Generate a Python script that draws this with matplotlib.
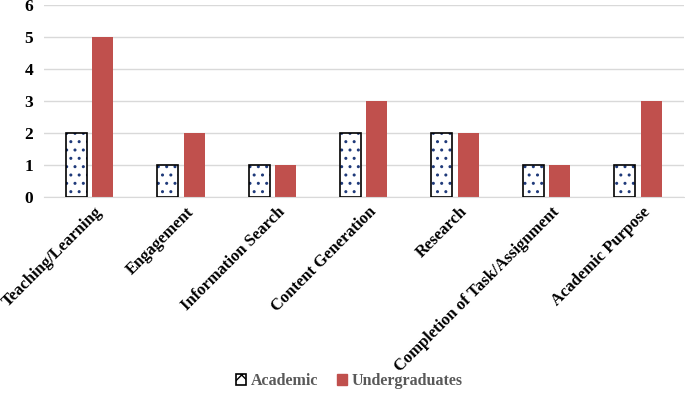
import numpy as np
import matplotlib
matplotlib.use("Agg")
import matplotlib.pyplot as plt
from matplotlib.patches import Patch

categories = ["Teaching/Learning", "Engagement", "Information Search", "Content Generation",
              "Research", "Completion of Task/Assignment", "Academic Purpose"]
academic = [2, 1, 1, 2, 2, 1, 1]
undergraduates = [5, 2, 1, 3, 2, 1, 3]

RED = "#C0504D"
plt.rcParams["font.family"] = ["Liberation Serif", "DejaVu Serif"]
plt.rcParams["font.weight"] = "bold"
plt.rcParams["hatch.linewidth"] = 1.0

fig = plt.figure(figsize=(6.85, 3.97), dpi=100)
ax = fig.add_axes([0.064, 0.504, 0.934, 0.483])

x = np.arange(len(categories))
w = 0.23
gap = 0.03
xa = x - w / 2 - gap
xu = x + w / 2 + gap
ax.bar(xa, academic, w, color="white", edgecolor="#1F3A7A", hatch="..", linewidth=0, zorder=2)
ax.bar(xa, academic, w, color="none", edgecolor="black", linewidth=1.2, zorder=3)
ax.bar(xu, undergraduates, w, color=RED, zorder=2)

ax.set_xlim(-0.5, len(categories) - 0.5)
ax.set_ylim(0, 6)
ax.set_yticks(range(7))
ax.yaxis.grid(True, color="#D9D9D9", lw=1)
ax.set_axisbelow(True)
for s in ["top", "right", "left"]:
    ax.spines[s].set_visible(False)
ax.spines["bottom"].set_color("#D9D9D9")
ax.tick_params(axis="both", length=0)
ax.tick_params(axis="y", pad=14, labelsize=12.5)
ax.tick_params(axis="x", pad=5, labelsize=12)
ax.set_xticks(x + 0.05)
ax.set_xticklabels(categories, rotation=45, ha="right", rotation_mode="anchor")
for t in ax.get_yticklabels():
    t.set_horizontalalignment("left")

handles = [Patch(facecolor="white", edgecolor="black", hatch="xx", lw=1.2),
           Patch(facecolor=RED, edgecolor=RED)]
leg = fig.legend(handles, ["Academic", "Undergraduates"], loc="center", bbox_to_anchor=(0.51, 0.04),
                 ncol=2, frameon=False, fontsize=11.5, handlelength=0.6, handleheight=0.6,
                 handletextpad=0.3, columnspacing=1.2)
for t in leg.get_texts():
    t.set_color("#595959")

fig.savefig("out.png", dpi=100)
